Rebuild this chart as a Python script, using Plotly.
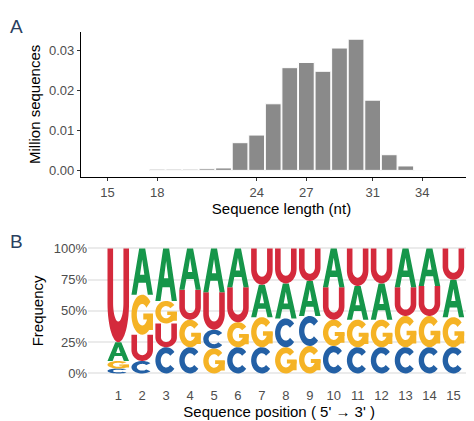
import numpy as np
import plotly.graph_objects as go

# Panel A data
lengths = list(range(18, 35))
million_seqs = [0.0003, 0.0003, 0.0003, 0.0004, 0.0006, 0.0069, 0.0088, 0.0166, 0.0256,
                0.0269, 0.0247, 0.0305, 0.0327, 0.0175, 0.0039, 0.0011, 0.0001]
len_ticks = [15, 18, 24, 27, 31, 34]

# Panel B data: per-position frequencies, stacked bottom-to-top
positions = list(range(1, 16))
stack_order = [
    ["C", "G", "A", "U"], ["C", "U", "G", "A"], ["C", "U", "G", "A"], ["C", "G", "U", "A"],
    ["G", "C", "U", "A"], ["C", "G", "U", "A"], ["C", "G", "A", "U"], ["G", "C", "A", "U"],
    ["G", "C", "A", "U"], ["C", "G", "U", "A"], ["C", "G", "A", "U"], ["C", "G", "A", "U"],
    ["C", "G", "U", "A"], ["C", "G", "U", "A"], ["C", "G", "A", "U"]]
stack_freq = [
    [0.04, 0.06, 0.15, 0.75], [0.10, 0.21, 0.32, 0.37], [0.21, 0.19, 0.18, 0.42], [0.21, 0.22, 0.24, 0.33],
    [0.20, 0.15, 0.30, 0.35], [0.21, 0.20, 0.28, 0.31], [0.21, 0.24, 0.26, 0.29], [0.21, 0.23, 0.28, 0.28],
    [0.22, 0.24, 0.28, 0.26], [0.22, 0.21, 0.26, 0.31], [0.21, 0.22, 0.27, 0.30], [0.21, 0.22, 0.29, 0.28],
    [0.21, 0.25, 0.23, 0.31], [0.21, 0.25, 0.24, 0.30], [0.21, 0.24, 0.30, 0.25]]
colors = {"A": "#16964a", "C": "#2360a5", "G": "#f5b325", "U": "#d42a3c"}

def arc(cx, cy, rx, ry, a0, a1, n=30):
    t = np.radians(np.linspace(a0, a1, n))
    return list(zip(cx + rx * np.cos(t), cy + ry * np.sin(t)))

def glyph(letter):
    """Returns list of shapes; each shape is a list of polygons (subpaths)."""
    if letter == "A":
        return [[[(0, 0), (0.36, 1), (0.64, 1), (1, 0), (0.76, 0), (0.67, 0.26), (0.33, 0.26), (0.24, 0)],
                 [(0.5, 0.76), (0.60, 0.43), (0.40, 0.43)]]]
    if letter == "U":
        return [[[(0, 1), (0.26, 1)] + arc(0.5, 0.42, 0.24, 0.2, 180, 360) + [(0.74, 1), (1, 1)]
                 + arc(0.5, 0.42, 0.5, 0.42, 0, -180)]]
    if letter == "C":
        return [[arc(0.5, 0.5, 0.5, 0.5, 40, 320) + arc(0.5, 0.5, 0.25, 0.27, 320, 40)]]
    # G
    return [[arc(0.5, 0.5, 0.5, 0.5, 40, 345) + arc(0.5, 0.5, 0.25, 0.27, 345, 40)],
            [[(0.55, 0.38), (1, 0.38), (1, 0.53), (0.55, 0.53)]],
            [[(0.76, 0.12), (1, 0.12), (1, 0.5), (0.76, 0.5)]]]

shapes = []
for pos, order, freqs in zip(positions, stack_order, stack_freq):
    y0 = 0
    for let, f in zip(order, freqs):
        for polys in glyph(let):
            path = ""
            for poly in polys:
                pts = [(pos - 0.45 + 0.9 * px, y0 + f * py) for px, py in poly]
                path += "M" + "L".join(f"{a:.4f},{b:.4f}" for a, b in pts) + "Z"
            shapes.append(dict(type="path", path=path, xref="x2", yref="y2",
                               fillcolor=colors[let], line=dict(width=0)))
        y0 += f

fig = go.Figure()
fig.add_trace(go.Bar(x=lengths, y=million_seqs, marker_color="#8a8a8a",
                     marker_line=dict(color="white", width=1), width=0.95,
                     xaxis="x", yaxis="y", showlegend=False))
fig.add_trace(go.Scatter(x=positions, y=[0] * 15, mode="markers", marker_opacity=0,
                         xaxis="x2", yaxis="y2", showlegend=False, hoverinfo="skip"))

tickfont = dict(family="Liberation Sans, Arial", size=13, color="#4d4d4d")
titlefont = dict(family="Liberation Sans, Arial", size=15, color="black")
fig.update_layout(
    width=474, height=421, margin=dict(l=0, r=0, t=0, b=0),
    plot_bgcolor="white", paper_bgcolor="white", shapes=shapes, bargap=0.05,
    xaxis=dict(domain=[0.154, 1.0], range=[13.4, 37.6], tickvals=len_ticks, tickfont=tickfont,
               showline=True, linecolor="black", linewidth=1.2, ticks="outside", ticklen=3,
               tickcolor="#333", title=dict(text="Sequence length (nt)", font=titlefont, standoff=2),
               anchor="y", showgrid=False, zeroline=False),
    yaxis=dict(domain=[0.601, 0.957], range=[-0.0017, 0.0346], tickvals=[0, 0.01, 0.02, 0.03],
               ticktext=["0.00", "0.01", "0.02", "0.03"], tickfont=tickfont,
               showline=True, linecolor="black", linewidth=1.2, ticks="outside", ticklen=3,
               tickcolor="#333", title=dict(text="Million sequences", font=titlefont, standoff=4),
               anchor="x", showgrid=False, zeroline=False),
    xaxis2=dict(domain=[0.169, 0.975], range=[-0.26, 15.7], tickvals=positions, tickfont=tickfont,
                ticks="outside", ticklen=9, tickcolor="rgba(0,0,0,0)", showline=False,
                title=dict(text="Sequence position ( 5' \u2192 3' )", font=titlefont, standoff=0),
                anchor="y2", showgrid=False, zeroline=False),
    yaxis2=dict(domain=[0.118, 0.43], range=[-0.01, 1.01], tickvals=[0, 0.25, 0.5, 0.75, 1],
                ticktext=["0%", "25%", "50%", "75%", "100%"], tickfont=tickfont,
                showgrid=True, gridcolor="#ebebeb", gridwidth=1.5, zeroline=False,
                title=dict(text="Frequency", font=titlefont, standoff=6), anchor="x2"),
    annotations=[
        dict(text="A", x=0.0, y=1.0, xref="paper", yref="paper", xanchor="left", yanchor="top",
             showarrow=False, font=dict(family="Liberation Sans, Arial", size=19)),
        dict(text="B", x=0.0, y=0.475, xref="paper", yref="paper", xanchor="left", yanchor="top",
             showarrow=False, font=dict(family="Liberation Sans, Arial", size=19)),
    ],
)
fig.write_html("out.html")
